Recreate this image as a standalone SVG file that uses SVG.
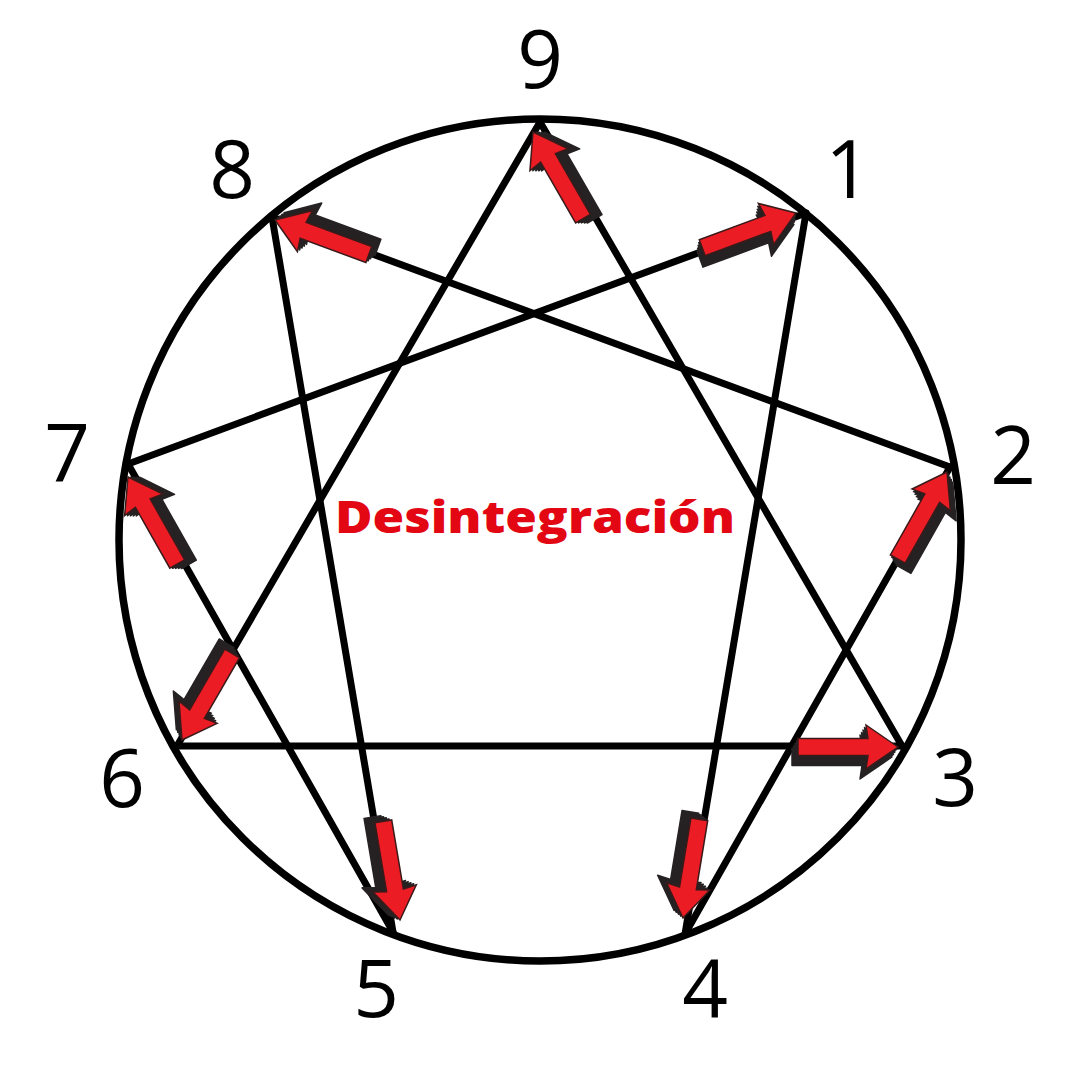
<svg xmlns="http://www.w3.org/2000/svg" xmlns:xlink="http://www.w3.org/1999/xlink" width="1080" height="1080" viewBox="0 0 1080 1080">
<style>
.ring{fill:none;stroke:#000;stroke-width:7.5}
.ln{stroke:#000;stroke-width:7;stroke-linecap:round;fill:none}
.num{font-family:"Open Sans","Noto Sans",sans-serif;font-size:80px;fill:#000;text-anchor:middle}
.title{font-family:"Open Sans","Noto Sans",sans-serif;font-weight:800;font-size:45px;fill:#e30613;text-anchor:middle}
.sh{fill:#262223;stroke:#262223;stroke-width:1.5;stroke-linejoin:round}
.red{fill:#ec1c24;stroke:#3a1a1a;stroke-width:1.5;stroke-linejoin:miter}
</style>
<defs>
<path id="ah" d="M0,0 L-32,-22 L-30,-8.5 L-100,-8.5 L-100,8.5 L-30,8.5 L-32,22 Z"/>
<g id="arrow">
<use xlink:href="#ah" href="#ah" class="sh" transform="translate(-6,10)"/>
<use xlink:href="#ah" href="#ah" class="sh" transform="translate(-4.5,7.5)"/>
<use xlink:href="#ah" href="#ah" class="sh" transform="translate(-3,5)"/>
<use xlink:href="#ah" href="#ah" class="sh" transform="translate(-1.5,2.5)"/>
<use xlink:href="#ah" href="#ah" class="red"/>
</g>
</defs>
<rect width="1080" height="1080" fill="#fff"/>
<g id="circle"><circle class="ring" cx="540" cy="540" r="421"/></g>
<g id="connectors">
<line class="ln" x1="540" y1="122" x2="902" y2="746"/>
<line class="ln" x1="540" y1="122" x2="177" y2="746"/>
<line class="ln" x1="177" y1="746" x2="902" y2="746"/>
<line class="ln" x1="806" y1="213" x2="685" y2="934"/>
<line class="ln" x1="685" y1="934" x2="950" y2="467"/>
<line class="ln" x1="950" y1="467" x2="272" y2="217"/>
<line class="ln" x1="272" y1="217" x2="393" y2="932"/>
<line class="ln" x1="393" y1="932" x2="128" y2="464"/>
<line class="ln" x1="128" y1="464" x2="806" y2="213"/>
</g>
<g id="arrows">
<use xlink:href="#arrow" href="#arrow" transform="translate(533,132) rotate(-120)"/>
<use xlink:href="#arrow" href="#arrow" transform="translate(796,213) rotate(-20.3)"/>
<use xlink:href="#arrow" href="#arrow" transform="translate(898,747) rotate(0)"/>
<use xlink:href="#arrow" href="#arrow" transform="translate(683,918) rotate(99.4)"/>
<use xlink:href="#arrow" href="#arrow" transform="translate(947,472) rotate(-60.5)"/>
<use xlink:href="#arrow" href="#arrow" transform="translate(275,220) rotate(200.2)"/>
<use xlink:href="#arrow" href="#arrow" transform="translate(400,920) rotate(80.4)"/>
<use xlink:href="#arrow" href="#arrow" transform="translate(128,477) rotate(-119.5)"/>
<use xlink:href="#arrow" href="#arrow" transform="translate(182,740) rotate(120.1)"/>
</g>
<g id="n9"><text class="num" x="540" y="88">9</text></g>
<g id="n1"><text class="num" x="848" y="198">1</text></g>
<g id="n2"><text class="num" x="1013" y="484">2</text></g>
<g id="n3"><text class="num" x="955" y="806">3</text></g>
<g id="n4"><text class="num" x="705" y="1017">4</text></g>
<g id="n5"><text class="num" x="376" y="1017">5</text></g>
<g id="n6"><text class="num" x="122" y="807">6</text></g>
<g id="n7"><text class="num" x="67" y="482">7</text></g>
<g id="n8"><text class="num" x="232" y="198">8</text></g>
<g id="label"><text class="title" x="535" y="533" textLength="400" lengthAdjust="spacingAndGlyphs">Desintegración</text></g>
</svg>
